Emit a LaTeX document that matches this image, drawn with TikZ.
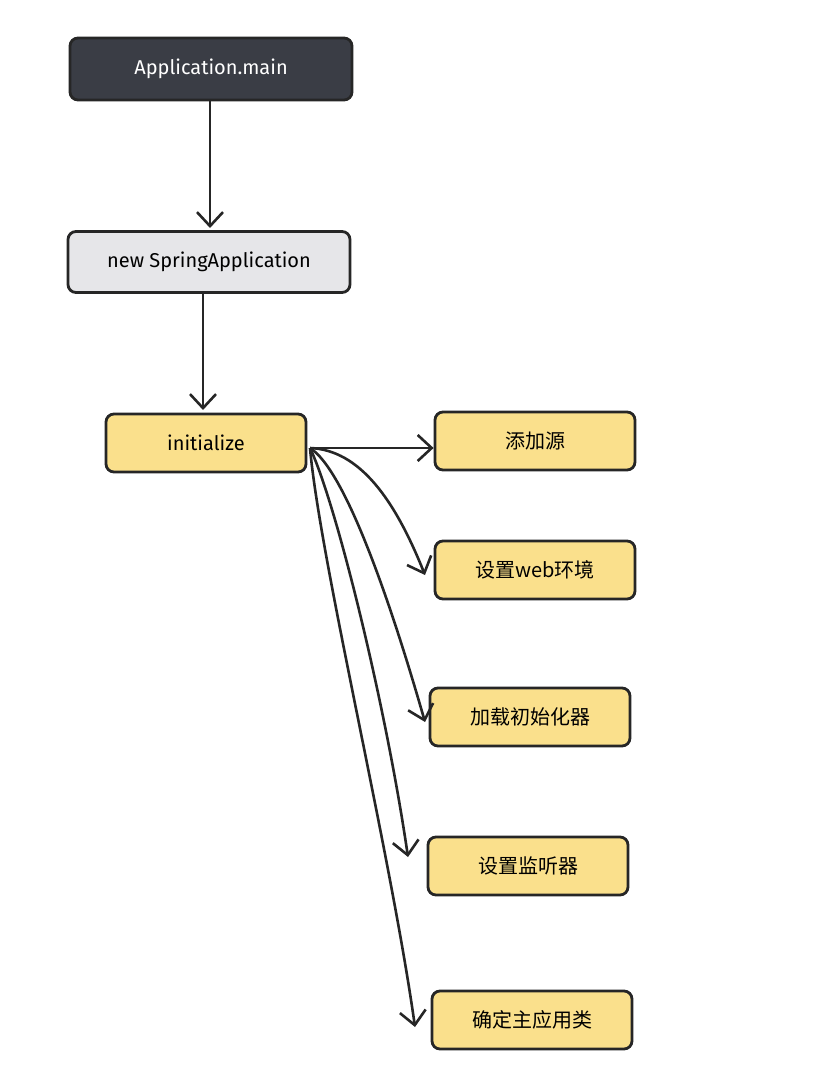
\documentclass[tikz,border=0pt]{standalone}
\usepackage{fontspec}
\setmainfont{Fira Sans}
\newfontfamily\cjk{Noto Sans CJK SC}
\usetikzlibrary{arrows.meta}
\definecolor{darkbox}{HTML}{3A3D45}
\definecolor{greybox}{HTML}{E6E6E9}
\definecolor{yellowbox}{HTML}{FAE08C}
\begin{document}
\begin{tikzpicture}[x=1pt,y=1pt,
  box/.style={draw=black!85,line width=2.8pt,rounded corners=8pt,font=\fontsize{20}{24}\selectfont},
  yb/.style={box,fill=yellowbox,minimum width=200pt,minimum height=58pt,font=\cjk\fontsize{20}{24}\selectfont},
  arr/.style={draw=black!85,line width=2.6pt,-{Straight Barb[length=14pt,width=26pt,line width=2.6pt]}}]
\useasboundingbox (0,0) rectangle (831,-1078);
\node[box,fill=darkbox,text=white,minimum width=282pt,minimum height=62pt] (main) at (211,-69) {Application.main};
\node[box,fill=greybox,minimum width=282pt,minimum height=61pt] (new) at (209,-262) {new SpringApplication};
\node[box,fill=yellowbox,minimum width=200pt,minimum height=58pt] (init) at (206,-443) {initialize};
\node[yb] (a) at (535,-441) {添加源};
\node[yb] (b) at (535,-570) {设置web环境};
\node[yb] (c) at (530,-717) {加载初始化器};
\node[yb] (d) at (528,-866) {设置监听器};
\node[yb] (e) at (532,-1020) {确定主应用类};
\coordinate (o) at (310,-448);
\draw[arr] (main.south -| 210,0) -- (210,-228);
\draw[arr] (new.south -| 203,0) -- (203,-410);
\draw[arr] (o) -- (a.west |- 0,-448);
\draw[arr] (o) .. controls (360,-450) and (395,-500) .. (425,-575);
\draw[arr] (o) .. controls (345,-470) and (390,-600) .. (425,-722);
\draw[arr] (o) .. controls (335,-500) and (385,-700) .. (408,-857);
\draw[arr] (o) .. controls (320,-560) and (390,-850) .. (415,-1027);
\end{tikzpicture}
\end{document}
